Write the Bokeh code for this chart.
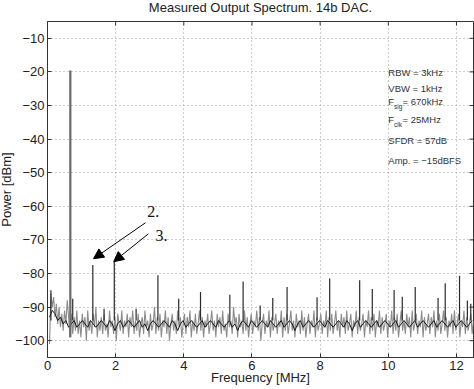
import numpy as np
from bokeh.plotting import figure
from bokeh.models import Range1d, Label, Arrow, NormalHead, FixedTicker, ColumnDataSource
from bokeh.embed import file_html
from bokeh.resources import INLINE

# ---------------- data ----------------
title_text = "Measured Output Spectrum. 14b DAC."
x_label = "Frequency [MHz]"
y_label = "Power [dBm]"
x_ticks = [0, 2, 4, 6, 8, 10, 12]
y_ticks = [-100, -90, -80, -70, -60, -50, -40, -30, -20, -10]
y_tick_labels = ["\u2212100", "\u221290", "\u221280", "\u221270", "\u221260",
                 "\u221250", "\u221240", "\u221230", "\u221220", "\u221210"]

# sweep grid of the analyser traces
gray_start, gray_step = 0.06, 0.04
dark_start, dark_step = 0.06, 0.08

# max-hold style (light) trace, dBm
gray_trace = [
    -101, -86, -90, -87, -93, -89, -95, -90, -96, -92, -97, -91, -95, -88, -93, -99, -92, -98, -93, -97,
    -91, -98, -94, -99, -92, -96, -93, -100, -91, -97, -94, -98, -92, -96, -90, -99, -94, -97, -93, -98,
    -92, -97, -95, -99, -91, -96, -94, -98, -93, -100, -92, -95, -97, -91, -98, -94, -96, -92, -99, -93,
    -96, -91, -98, -94, -97, -92, -99, -95, -93, -98, -91, -96, -94, -99, -92, -97, -95, -90, -98, -93,
    -97, -92, -99, -94, -96, -91, -98, -93, -100, -95, -92, -97, -94, -98, -91, -96, -93, -99, -95, -92,
    -98, -93, -96, -91, -99, -94, -97, -92, -98, -95, -91, -97, -93, -99, -94, -96, -92, -98, -95, -91,
    -97, -94, -99, -92, -96, -93, -98, -91, -97, -95, -99, -92, -96, -94, -98, -90, -95, -93, -99, -92,
    -96, -94, -98, -91, -97, -93, -99, -95, -92, -98, -94, -96, -91, -97, -93, -100, -95, -92, -98, -94,
    -96, -91, -99, -93, -97, -95, -92, -98, -94, -96, -91, -99, -93, -97, -92, -98, -95, -91, -97, -94,
    -99, -92, -96, -94, -98, -91, -97, -93, -99, -95, -92, -98, -94, -96, -91, -99, -93, -97, -95, -92,
    -98, -94, -96, -91, -99, -93, -97, -92, -98, -95, -91, -97, -94, -99, -92, -96, -93, -98, -91, -97,
    -95, -92, -99, -94, -96, -91, -98, -93, -97, -95, -92, -99, -94, -96, -91, -98, -93, -97, -92, -99,
    -94, -96, -91, -98, -93, -97, -95, -92, -99, -94, -96, -91, -98, -93, -97, -92, -99, -95, -91, -97,
    -94, -98, -92, -96, -93, -99, -91, -97, -95, -92, -98, -94, -96, -91, -99, -93, -97, -95, -92, -98,
    -93, -96, -91, -99, -94, -97, -92, -98, -95, -91, -97, -93, -99, -94, -96, -92, -98, -91, -97, -95,
    -92, -99, -94, -96, -91, -98, -93, -97, -95, -92, -98, -94,
]

# averaged (dark) trace, dBm
dark_trace = [
    -93, -91, -92, -94, -93, -95, -94, -96, -95, -94, -96, -95, -94, -95, -96, -94, -95, -96, -95, -94,
    -95, -96, -94, -95, -97, -95, -94, -96, -95, -94, -95, -96, -95, -94, -96, -95, -97, -95, -94, -95,
    -96, -95, -94, -95, -96, -94, -95, -97, -95, -94, -96, -95, -94, -95, -96, -95, -94, -96, -95, -94,
    -95, -96, -94, -95, -96, -95, -94, -96, -95, -97, -95, -94, -95, -96, -94, -95, -96, -95, -94, -95,
    -96, -94, -95, -96, -95, -94, -96, -95, -94, -95, -97, -95, -94, -96, -95, -94, -95, -96, -95, -94,
    -95, -96, -94, -95, -96, -95, -94, -95, -96, -94, -95, -97, -95, -94, -96, -95, -94, -95, -96, -95,
    -94, -96, -95, -94, -95, -96, -95, -94, -96, -95, -94, -95, -96, -95, -94, -96, -95, -94, -95, -96,
    -95, -94, -96, -95, -94, -95, -96, -95, -94, -96, -95, -94, -95, -96, -95, -94,
]

# signal tone
tone_freq = 0.67
tone_peak = -19.6
tone_base = -99

# spurs (frequency MHz, peak dBm)
spur_freq = [0.10, 0.74, 1.33, 1.66, 1.96, 2.60, 3.24, 3.85, 4.49, 5.35, 5.74, 6.24, 6.61, 7.03,
             7.91, 8.28, 9.16, 9.53, 10.17, 10.41, 10.79, 11.46, 11.67, 12.09, 12.32, 12.42]
spur_peak = [-85.0, -87.5, -77.5, -90.5, -76.6, -90.5, -80.5, -87.5, -85.5, -86.3, -82.4, -89.5, -87.3, -84.0,
             -87.1, -81.5, -82.0, -84.6, -84.9, -86.9, -84.0, -87.3, -82.9, -80.7, -88.0, -89.0]
spur_floor = -94

# ---------------- figure ----------------
FONT = "Liberation Sans"
X0, X1, Y0, Y1 = 0, 12.5, -105, -5
p = figure(width=479, height=399, output_backend="svg", toolbar_location=None,
           x_range=Range1d(X0, X1), y_range=Range1d(Y0, Y1),
           min_border_left=52, min_border_right=1, min_border_top=30, min_border_bottom=32)
p.styles = {"margin-left": "-5px", "margin-top": "-10px"}
p.background_fill_color = "white"
p.border_fill_color = "white"
p.outline_line_color = "#333333"
p.outline_line_width = 1

p.title.text = title_text
p.title.align = "center"
p.title.text_font = FONT
p.title.text_font_size = "13px"
p.title.text_font_style = "normal"
p.title.text_color = "#222222"
p.title.standoff = 14

gx = [gray_start + gray_step * i for i in range(len(gray_trace))]
dx = [dark_start + dark_step * i for i in range(len(dark_trace))]

p.line(gx, gray_trace, line_color="#8c8c8c", line_width=1.1)
p.line(dx, dark_trace, line_color="#1a1a1a", line_width=1)

src = ColumnDataSource(dict(x=spur_freq, y=spur_peak, b=[spur_floor] * len(spur_freq)))
p.segment(x0="x", y0="b", x1="x", y1="y", source=src, line_color="#2a2a2a", line_width=1.2)
p.segment(x0=[tone_freq], y0=[tone_base], x1=[tone_freq], y1=[tone_peak],
          line_color="#6a6a6a", line_width=2.2)

# axes
for ax in (p.xaxis[0], p.yaxis[0]):
    ax.major_tick_in = 4
    ax.major_tick_out = 0
    ax.minor_tick_line_color = None
    ax.axis_line_color = "#333333"
    ax.major_tick_line_color = "#333333"
    ax.major_label_text_font = FONT
    ax.major_label_text_font_size = "13px"
    ax.major_label_text_color = "#222222"
    ax.axis_label_text_font = FONT
    ax.axis_label_text_font_size = "13px"
    ax.axis_label_text_font_style = "normal"
    ax.axis_label_text_color = "#222222"

p.xaxis.ticker = FixedTicker(ticks=x_ticks)
p.yaxis.ticker = FixedTicker(ticks=y_ticks)
p.yaxis.major_label_overrides = {t: l for t, l in zip(y_ticks, y_tick_labels)}
p.xaxis.axis_label = x_label
p.yaxis.axis_label = y_label
p.xaxis.major_label_standoff = 3
p.xaxis.axis_label_standoff = -3
p.yaxis.major_label_standoff = 3
p.yaxis.axis_label_standoff = -2

# top / right inward ticks (box axes without labels)
tick_dx = 4 / 34.08
tick_dy = 4 / 3.37
p.segment(x0=x_ticks, y0=[Y1] * len(x_ticks), x1=x_ticks, y1=[Y1 - tick_dy] * len(x_ticks),
          line_color="#333333", line_width=1)
p.segment(x0=[X1] * len(y_ticks), y0=y_ticks, x1=[X1 - tick_dx] * len(y_ticks), y1=y_ticks,
          line_color="#333333", line_width=1)

p.xgrid.ticker = FixedTicker(ticks=x_ticks)
p.ygrid.ticker = FixedTicker(ticks=y_ticks)
p.grid.grid_line_color = "#9a9a9a"
p.grid.grid_line_dash = "1 3"
p.grid.grid_line_width = 1

# info box text
info_font = "9.5px"
def info(x, y, t, size=info_font):
    p.add_layout(Label(x=x, y=y, text=t, text_align="left", text_baseline="middle",
                       text_font=FONT, text_font_size=size, text_color="#333333"))

info(10.0, -20.3, "RBW = 3kHz")
info(10.0, -24.8, "VBW = 1kHz")
info(10.0, -28.7, "F")
info(10.17, -30.4, "sig", "6.5px")
info(10.42, -28.9, "= 670kHz")
info(10.0, -34.1, "F")
info(10.17, -35.6, "clk", "6.5px")
info(10.42, -34.1, "= 25MHz")
info(10.0, -40.4, "SFDR = 57dB")
info(10.0, -46.4, "Amp. = \u221215dBFS")

# arrows and harmonic labels
p.add_layout(Arrow(end=NormalHead(size=10, fill_color="black", line_color="black"),
                   x_start=2.876, y_start=-64.9, x_end=1.35, y_end=-75.6,
                   line_color="black", line_width=1))
p.add_layout(Arrow(end=NormalHead(size=10, fill_color="black", line_color="black"),
                   x_start=2.96, y_start=-68.2, x_end=1.94, y_end=-76.5,
                   line_color="black", line_width=1))
p.add_layout(Label(x=2.93, y=-61.6, text="2.", text_align="left", text_baseline="middle",
                   text_font="Liberation Serif", text_font_size="16px", text_color="#111111"))
p.add_layout(Label(x=3.17, y=-68.8, text="3.", text_align="left", text_baseline="middle",
                   text_font="Liberation Serif", text_font_size="16px", text_color="#111111"))

open("out.html", "w").write(file_html(p, INLINE))
